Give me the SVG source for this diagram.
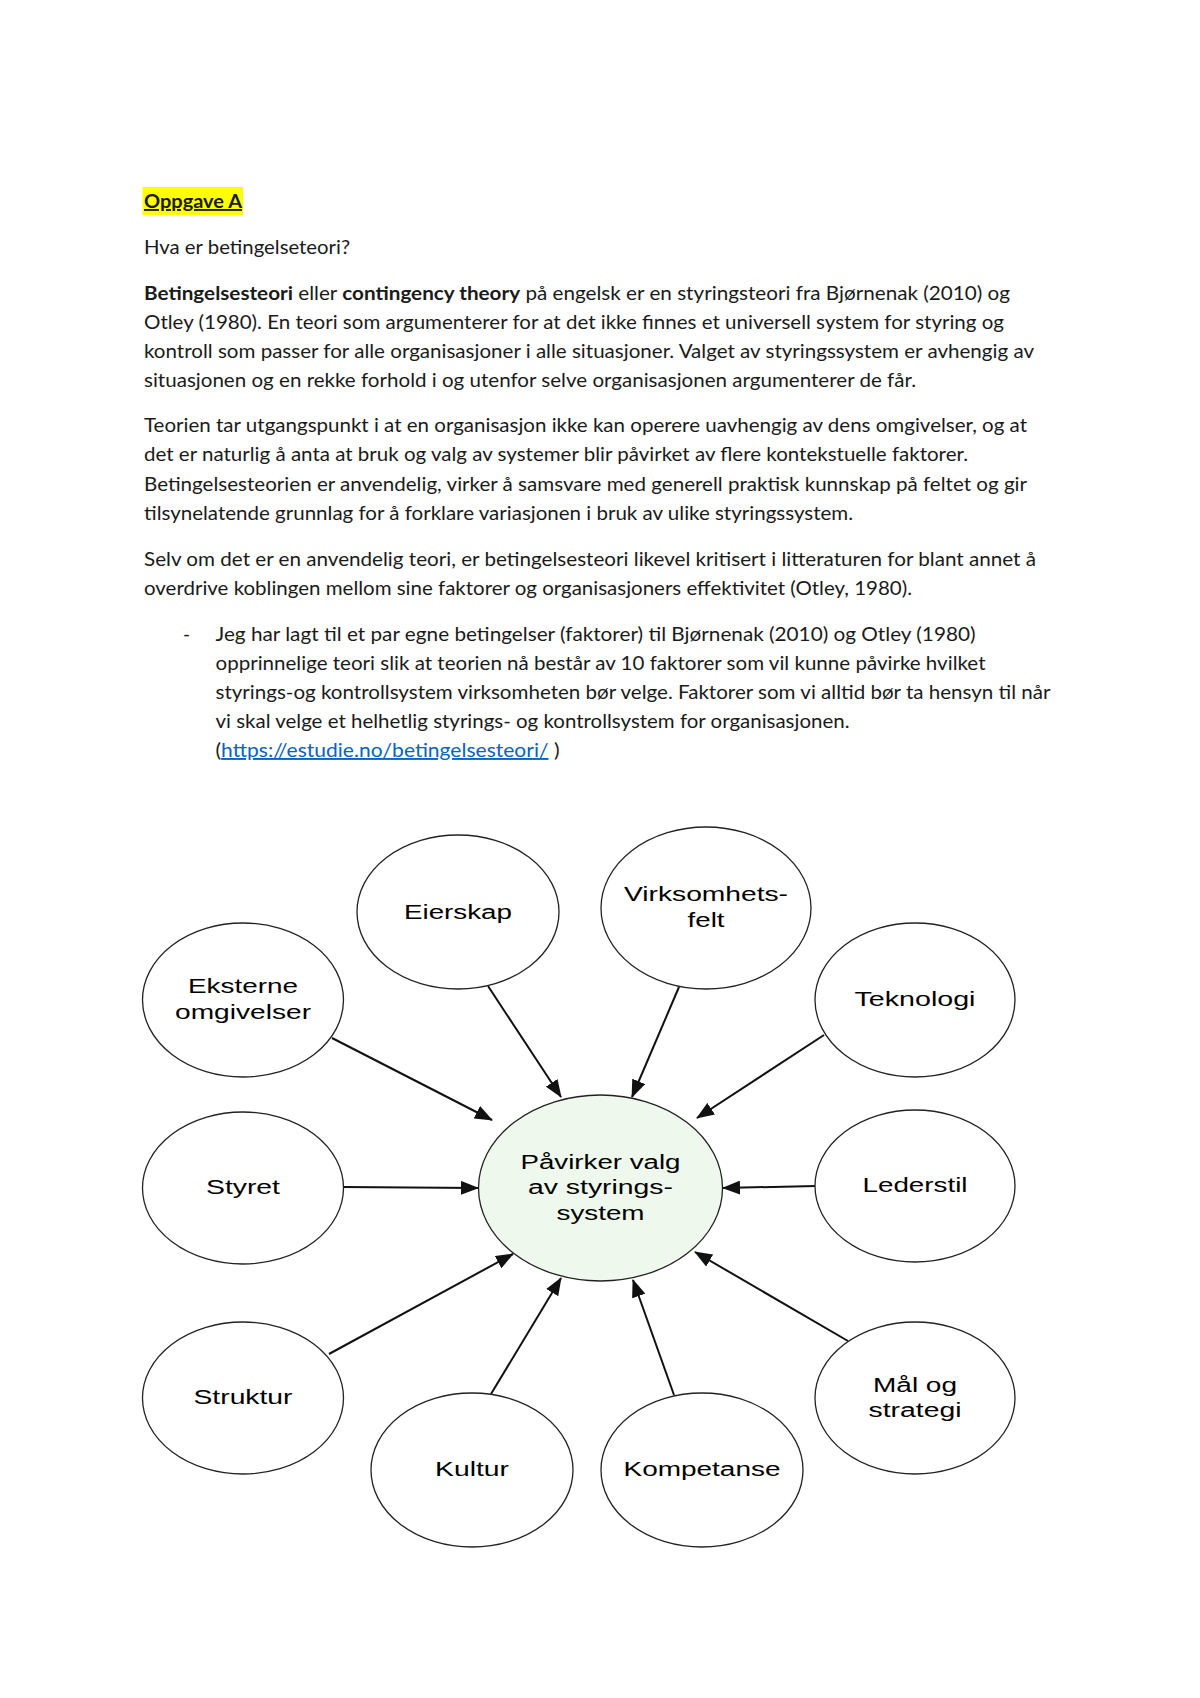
<svg xmlns="http://www.w3.org/2000/svg" width="1200" height="1698" viewBox="0 0 1200 1698">
<style>
.b{font-family:Lato,"Liberation Sans",sans-serif;font-size:19px;fill:#1a1a1a}
.bd{font-weight:bold}
.n{fill:#fff;stroke:#222;stroke-width:1.3}
.c{fill:#eef8ec;stroke:#222;stroke-width:1.3}
.t{font-family:"Liberation Sans",Arial,sans-serif;font-size:20px;fill:#000;text-anchor:middle}
.e{stroke:#111;stroke-width:2;fill:none;marker-end:url(#ah)}
</style>
<defs>
<marker id="ah" markerUnits="userSpaceOnUse" markerWidth="18" markerHeight="14" viewBox="0 0 18 14" refX="17" refY="7" orient="auto">
<path d="M0,0 L18,7 L0,14 Z" fill="#111"/>
</marker>
</defs>
<rect width="1200" height="1698" fill="#fff"/>
<g id="text">
<rect x="142.5" y="187" width="100.5" height="28" fill="#ffff00"/>
<text class="b bd" x="144" y="208" textLength="98" lengthAdjust="spacingAndGlyphs" text-decoration="underline">Oppgave A</text>
<text class="b" x="144" y="254" textLength="206" lengthAdjust="spacingAndGlyphs">Hva er betingelseteori?</text>
<text class="b" x="144" y="300" textLength="866" lengthAdjust="spacingAndGlyphs"><tspan class="bd">Betingelsesteori</tspan> eller <tspan class="bd">contingency theory</tspan> på engelsk er en styringsteori fra Bjørnenak  (2010) og</text>
<text class="b" x="144" y="329" textLength="860" lengthAdjust="spacingAndGlyphs">Otley (1980). En teori som argumenterer for at det ikke finnes et universell system for styring og</text>
<text class="b" x="144" y="358" textLength="890" lengthAdjust="spacingAndGlyphs">kontroll som passer for alle organisasjoner i alle situasjoner. Valget av styringssystem er avhengig av</text>
<text class="b" x="144" y="387" textLength="772" lengthAdjust="spacingAndGlyphs">situasjonen og en rekke forhold i og utenfor selve organisasjonen argumenterer de får.</text>
<text class="b" x="144" y="432" textLength="883" lengthAdjust="spacingAndGlyphs">Teorien tar utgangspunkt i at en organisasjon ikke kan operere uavhengig av dens omgivelser, og at</text>
<text class="b" x="144" y="461" textLength="824" lengthAdjust="spacingAndGlyphs">det er naturlig å anta at bruk og valg av systemer blir påvirket av flere kontekstuelle faktorer.</text>
<text class="b" x="144" y="491" textLength="883" lengthAdjust="spacingAndGlyphs">Betingelsesteorien er anvendelig, virker å samsvare med generell praktisk kunnskap på feltet og gir</text>
<text class="b" x="144" y="520" textLength="709" lengthAdjust="spacingAndGlyphs">tilsynelatende grunnlag for å forklare variasjonen i bruk av ulike styringssystem.</text>
<text class="b" x="144" y="566" textLength="892" lengthAdjust="spacingAndGlyphs">Selv om det er en anvendelig teori, er betingelsesteori likevel kritisert i litteraturen for blant annet å</text>
<text class="b" x="144" y="595" textLength="768" lengthAdjust="spacingAndGlyphs">overdrive koblingen mellom sine faktorer og organisasjoners effektivitet (Otley, 1980).</text>
<text class="b" x="183" y="641">-</text>
<text class="b" x="215.5" y="641" textLength="760" lengthAdjust="spacingAndGlyphs">Jeg har lagt til et par egne betingelser (faktorer) til Bjørnenak  (2010) og Otley (1980)</text>
<text class="b" x="215.5" y="670" textLength="770" lengthAdjust="spacingAndGlyphs">opprinnelige teori slik at teorien nå består av 10 faktorer som vil kunne påvirke hvilket</text>
<text class="b" x="215.5" y="699" textLength="835" lengthAdjust="spacingAndGlyphs">styrings-og kontrollsystem virksomheten bør velge. Faktorer som vi alltid bør ta hensyn til når</text>
<text class="b" x="215.5" y="728" textLength="634" lengthAdjust="spacingAndGlyphs">vi skal velge et helhetlig styrings- og kontrollsystem for organisasjonen.</text>
<text class="b" x="215.5" y="757" textLength="344" lengthAdjust="spacingAndGlyphs">(<tspan fill="#0563c1" text-decoration="underline">https://estudie.no/betingelsesteori/</tspan> )</text>
</g>
<g id="connectors">
<line class="e" x1="332" y1="1038" x2="492" y2="1120"/>
<line class="e" x1="488" y1="986" x2="561" y2="1097"/>
<line class="e" x1="679" y1="987" x2="632" y2="1097"/>
<line class="e" x1="824" y1="1035" x2="697" y2="1118"/>
<line class="e" x1="343" y1="1187" x2="478" y2="1188"/>
<line class="e" x1="816" y1="1186" x2="723" y2="1188"/>
<line class="e" x1="329" y1="1354" x2="513" y2="1254"/>
<line class="e" x1="491" y1="1394" x2="561" y2="1278"/>
<line class="e" x1="674" y1="1395" x2="633" y2="1280"/>
<line class="e" x1="848" y1="1341" x2="695" y2="1252"/>
</g>
<g id="center">
<ellipse class="c" cx="600.5" cy="1188" rx="122" ry="93"/>
<text class="t" x="600.5" y="1169" textLength="160" lengthAdjust="spacingAndGlyphs">Påvirker valg</text>
<text class="t" x="600.5" y="1194" textLength="145" lengthAdjust="spacingAndGlyphs">av styrings-</text>
<text class="t" x="600.5" y="1220" textLength="88" lengthAdjust="spacingAndGlyphs">system</text>
</g>
<g id="eksterne">
<ellipse class="n" cx="243" cy="1000" rx="100.5" ry="77"/>
<text class="t" x="243" y="993" textLength="110" lengthAdjust="spacingAndGlyphs">Eksterne</text>
<text class="t" x="243" y="1019" textLength="136" lengthAdjust="spacingAndGlyphs">omgivelser</text>
</g>
<g id="eierskap">
<ellipse class="n" cx="458" cy="912" rx="101" ry="77"/>
<text class="t" x="458" y="919" textLength="108" lengthAdjust="spacingAndGlyphs">Eierskap</text>
</g>
<g id="virksomhetsfelt">
<ellipse class="n" cx="706" cy="908" rx="105" ry="81"/>
<text class="t" x="706" y="901" textLength="164" lengthAdjust="spacingAndGlyphs">Virksomhets-</text>
<text class="t" x="706" y="927" textLength="37" lengthAdjust="spacingAndGlyphs">felt</text>
</g>
<g id="teknologi">
<ellipse class="n" cx="915" cy="1000" rx="100" ry="77"/>
<text class="t" x="915" y="1006" textLength="121" lengthAdjust="spacingAndGlyphs">Teknologi</text>
</g>
<g id="styret">
<ellipse class="n" cx="243" cy="1188" rx="100.5" ry="76"/>
<text class="t" x="243" y="1194" textLength="74" lengthAdjust="spacingAndGlyphs">Styret</text>
</g>
<g id="lederstil">
<ellipse class="n" cx="915" cy="1186" rx="100" ry="76"/>
<text class="t" x="915" y="1192" textLength="105" lengthAdjust="spacingAndGlyphs">Lederstil</text>
</g>
<g id="struktur">
<ellipse class="n" cx="243" cy="1398" rx="100.5" ry="76"/>
<text class="t" x="243" y="1404" textLength="99" lengthAdjust="spacingAndGlyphs">Struktur</text>
</g>
<g id="kultur">
<ellipse class="n" cx="472" cy="1470" rx="101" ry="77"/>
<text class="t" x="472" y="1476" textLength="74" lengthAdjust="spacingAndGlyphs">Kultur</text>
</g>
<g id="kompetanse">
<ellipse class="n" cx="702" cy="1470" rx="101" ry="77"/>
<text class="t" x="702" y="1476" textLength="157" lengthAdjust="spacingAndGlyphs">Kompetanse</text>
</g>
<g id="maal">
<ellipse class="n" cx="915" cy="1398" rx="100" ry="76"/>
<text class="t" x="915" y="1392" textLength="84" lengthAdjust="spacingAndGlyphs">Mål og</text>
<text class="t" x="915" y="1417" textLength="93" lengthAdjust="spacingAndGlyphs">strategi</text>
</g>
</svg>
